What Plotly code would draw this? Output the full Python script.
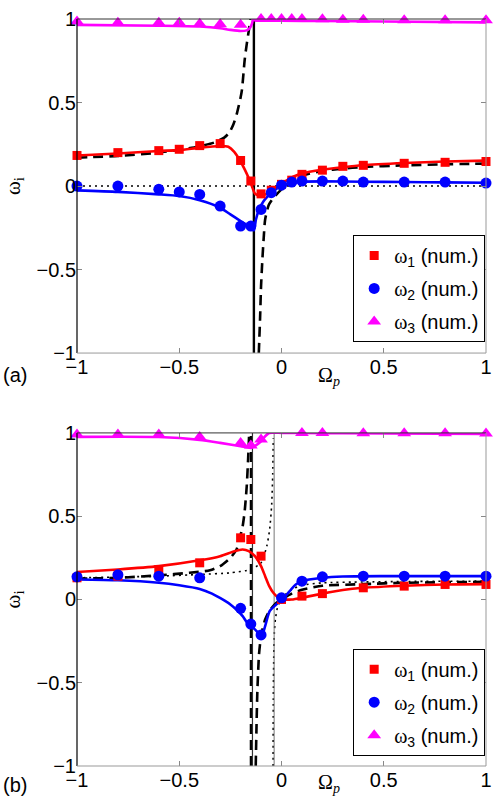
import plotly.graph_objects as go

# ---------------- panel (a) data ----------------
a_dot_x = [-1.0, 1.0]
a_dot_y = [0.0, 0.0]

a_dashL_x = [-1.0, -0.8, -0.6, -0.41, -0.33, -0.28, -0.255, -0.235, -0.217, -0.2, -0.193, -0.18, -0.17, -0.16, -0.152]
a_dashL_y = [0.17, 0.18, 0.2, 0.235, 0.26, 0.29, 0.32, 0.37, 0.44, 0.53, 0.58, 0.755, 0.85, 0.93, 1.0]

a_dashR_x = [-0.111, -0.105, -0.1, -0.094, -0.087, -0.08, -0.063, -0.045, -0.024, 0.0, 0.024, 0.06, 0.1, 0.2, 0.3, 0.39, 0.6, 0.8, 1.0]
a_dashR_y = [-1.0, -0.8, -0.6, -0.45, -0.31, -0.2, -0.115, -0.08, -0.05, -0.02, 0.005, 0.035, 0.062, 0.09, 0.105, 0.113, 0.124, 0.13, 0.134]

a_vline_x = [-0.135, -0.135]
a_vline_y = [-1.0, 1.0]

a_red_x = [-1.0, -0.8, -0.6, -0.5, -0.4, -0.3, -0.26, -0.231, -0.2, -0.18, -0.16, -0.145, -0.13, -0.11, -0.09, -0.06, -0.04, -0.02, 0.0, 0.03, 0.057, 0.1, 0.2, 0.3, 0.394, 0.6, 0.8, 1.0]
a_red_y = [0.183, 0.195, 0.21, 0.215, 0.23, 0.24, 0.235, 0.205, 0.147, 0.1, 0.047, 0.0, -0.045, -0.058, -0.055, -0.04, -0.022, -0.005, 0.015, 0.037, 0.056, 0.075, 0.097, 0.112, 0.124, 0.138, 0.147, 0.152]

a_blue_x = [-1.0, -0.8, -0.6, -0.5, -0.4, -0.3, -0.25, -0.2, -0.17, -0.145, -0.135, -0.125, -0.11, -0.087, -0.07, -0.04, -0.02, 0.0, 0.035, 0.07, 0.1, 0.2, 0.4, 0.6, 0.8, 1.0]
a_blue_y = [-0.026, -0.035, -0.05, -0.06, -0.085, -0.13, -0.17, -0.21, -0.235, -0.26, -0.265, -0.2, -0.14, -0.09, -0.065, -0.03, -0.012, 0.0, 0.015, 0.022, 0.026, 0.028, 0.026, 0.024, 0.022, 0.02]

a_mag_x = [-1.0, -0.6, -0.4, -0.3, -0.25, -0.2, -0.17, -0.155, -0.145, -0.138, -0.13, -0.1, 0.0, 0.2, 0.5, 1.0]
a_mag_y = [0.965, 0.96, 0.955, 0.945, 0.935, 0.928, 0.932, 0.945, 0.97, 1.0, 0.995, 0.993, 0.99, 0.988, 0.985, 0.98]

a_num_x = [-1.0, -0.8, -0.6, -0.5, -0.4, -0.3, -0.2, -0.15, -0.1, -0.05, 0.0, 0.05, 0.1, 0.2, 0.3, 0.4, 0.6, 0.8, 1.0]
a_num1_y = [0.183, 0.2, 0.212, 0.22, 0.242, 0.254, 0.153, 0.03, -0.047, -0.025, 0.01, 0.035, 0.07, 0.095, 0.118, 0.124, 0.136, 0.142, 0.147]
a_num2_y = [0.0, 0.0, -0.02, -0.035, -0.05, -0.12, -0.24, -0.24, -0.14, -0.04, 0.005, 0.024, 0.03, 0.03, 0.03, 0.024, 0.024, 0.024, 0.018]
a_num3_x = [-1.0, -0.8, -0.6, -0.5, -0.4, -0.3, -0.2, -0.1, -0.05, 0.0, 0.05, 0.1, 0.2, 0.3, 0.4, 0.6, 0.8, 1.0]
a_num3_y = [0.985, 0.978, 0.978, 0.978, 0.972, 0.968, 0.965, 1.0, 1.0, 1.0, 1.0, 1.0, 0.998, 0.996, 0.995, 0.993, 0.993, 0.993]

# ---------------- panel (b) data ----------------
b_dotL_x = [-1.0, -0.6, -0.4, -0.25, -0.15, -0.1, -0.072, -0.058, -0.048, -0.043, -0.04]
b_dotL_y = [0.13, 0.14, 0.15, 0.16, 0.18, 0.22, 0.32, 0.42, 0.57, 0.75, 0.97]

b_dotR_x = [-0.041, -0.04, -0.038, -0.035, -0.03, -0.02, -0.01, 0.0, 0.02, 0.05, 0.1, 0.2, 0.4, 0.6, 1.0]
b_dotR_y = [-1.0, -0.6, -0.35, -0.2, -0.12, -0.05, -0.02, 0.0, 0.03, 0.06, 0.085, 0.1, 0.105, 0.108, 0.11]

b_thin_x = [-0.036, -0.036]
b_thin_y = [-1.0, 1.0]

b_dashL_x = [-1.0, -0.8, -0.6, -0.45, -0.35, -0.3, -0.25, -0.22, -0.207, -0.19, -0.18, -0.17, -0.163, -0.158]
b_dashL_y = [0.125, 0.13, 0.145, 0.16, 0.175, 0.2, 0.25, 0.3, 0.355, 0.44, 0.53, 0.68, 0.85, 1.0]

b_dashV_x = [-0.149, -0.149]
b_dashV_y = [-1.0, 1.0]

b_dashR_x = [-0.126, -0.122, -0.118, -0.11, -0.1, -0.08, -0.06, -0.03, 0.0, 0.05, 0.1, 0.2, 0.4, 0.6, 1.0]
b_dashR_y = [-1.0, -0.75, -0.55, -0.33, -0.22, -0.12, -0.07, -0.025, 0.0, 0.035, 0.058, 0.082, 0.092, 0.1, 0.106]

b_vline_x = [-0.142, -0.142]
b_vline_y = [-1.0, 1.0]

b_red_x = [-1.0, -0.8, -0.6, -0.4, -0.3, -0.23, -0.19, -0.16, -0.13, -0.1, -0.08, -0.06, -0.04, -0.02, 0.0, 0.05, 0.1, 0.2, 0.3, 0.4, 0.6, 0.8, 1.0]
b_red_y = [0.165, 0.18, 0.2, 0.235, 0.26, 0.29, 0.3, 0.29, 0.26, 0.2, 0.14, 0.08, 0.04, 0.015, 0.002, 0.0, 0.01, 0.035, 0.057, 0.07, 0.082, 0.09, 0.092]

b_blue_x = [-1.0, -0.8, -0.6, -0.5, -0.4, -0.34, -0.28, -0.25, -0.217, -0.19, -0.17, -0.13, -0.11, -0.097, -0.08, -0.058, -0.03, -0.01, 0.01, 0.04, 0.07, 0.1, 0.2, 0.3, 0.5, 0.7, 1.0]
b_blue_y = [0.12, 0.115, 0.1, 0.085, 0.063, 0.035, -0.006, -0.03, -0.065, -0.1, -0.136, -0.18, -0.205, -0.22, -0.16, -0.07, -0.035, -0.015, 0.005, 0.05, 0.09, 0.11, 0.13, 0.138, 0.14, 0.14, 0.14]

b_mag_x = [-1.0, -0.6, -0.4, -0.3, -0.2, -0.15, -0.12, -0.1, -0.08, -0.06, 0.0, 0.1, 0.3, 1.0]
b_mag_y = [0.976, 0.975, 0.958, 0.94, 0.92, 0.91, 0.93, 0.95, 0.98, 1.0, 1.0, 1.0, 0.998, 0.994]

b_num_x = [-1.0, -0.8, -0.6, -0.4, -0.2, -0.15, -0.1, 0.0, 0.1, 0.2, 0.4, 0.6, 0.8, 1.0]
b_num1_y = [0.13, 0.14, 0.18, 0.22, 0.37, 0.36, 0.26, 0.0, 0.02, 0.035, 0.07, 0.08, 0.09, 0.09]
b_num2_y = [0.136, 0.148, 0.14, 0.13, -0.053, -0.148, -0.213, 0.01, 0.11, 0.136, 0.14, 0.14, 0.14, 0.14]
b_num3_x = [-1.0, -0.8, -0.6, -0.4, -0.2, -0.15, -0.1, 0.1, 0.2, 0.4, 0.6, 0.8, 1.0]
b_num3_y = [0.99, 0.99, 0.99, 0.975, 0.94, 0.925, 0.96, 1.0, 1.0, 0.998, 0.998, 0.998, 0.996]

tick_vals = [-1, -0.5, 0, 0.5, 1]

RED = "#ff0000"
BLUE = "#0000ff"
MAG = "#ff00ff"
SANS = "Liberation Sans, Arial, sans-serif"
SERIF = "Liberation Serif, Times New Roman, serif"

fig = go.Figure()


def line(x, y, color, width, dash, xa, ya, clip=True):
    fig.add_trace(go.Scatter(x=x, y=y, mode="lines", xaxis=xa, yaxis=ya,
                             line=dict(color=color, width=width, dash=dash, shape="spline", smoothing=0.6),
                             showlegend=False, hoverinfo="skip", cliponaxis=clip))


def markers(x, y, color, symbol, size, name, xa, ya, leg):
    fig.add_trace(go.Scatter(x=x, y=y, mode="markers", xaxis=xa, yaxis=ya, name=name,
                             marker=dict(color=color, symbol=symbol, size=size, line=dict(width=0)),
                             legend=leg, legendgroup=name + leg, cliponaxis=False))


DOTS = "2px,4px"
DASH = "10px,6px"

# panel (a)
line(a_dot_x, a_dot_y, "black", 1.6, DOTS, "x", "y")
line(a_dashL_x, a_dashL_y, "black", 2.6, DASH, "x", "y")
line(a_dashR_x, a_dashR_y, "black", 2.6, DASH, "x", "y")
line(a_vline_x, a_vline_y, "black", 2.4, "solid", "x", "y")
line(a_red_x, a_red_y, RED, 2.6, "solid", "x", "y")
line(a_blue_x, a_blue_y, BLUE, 2.6, "solid", "x", "y")
line(a_mag_x, a_mag_y, MAG, 2.6, "solid", "x", "y", clip=False)

w1 = "<span style='font-family:Liberation Serif'>ω</span><sub>1</sub> (num.)"
w2 = "<span style='font-family:Liberation Serif'>ω</span><sub>2</sub> (num.)"
w3 = "<span style='font-family:Liberation Serif'>ω</span><sub>3</sub> (num.)"

markers(a_num_x, a_num1_y, RED, "square", 9, w1, "x", "y", "legend")
markers(a_num_x, a_num2_y, BLUE, "circle", 11, w2, "x", "y", "legend")
markers(a_num3_x, a_num3_y, MAG, "triangle-up", 12, w3, "x", "y", "legend")

# panel (b)
line(b_dotL_x, b_dotL_y, "black", 1.6, DOTS, "x2", "y2")
line(b_dotR_x, b_dotR_y, "black", 1.6, DOTS, "x2", "y2")
line(b_thin_x, b_thin_y, "#777777", 1.0, "solid", "x2", "y2")
line(b_dashL_x, b_dashL_y, "black", 2.6, DASH, "x2", "y2")
line(b_dashV_x, b_dashV_y, "black", 2.6, DASH, "x2", "y2")
line(b_dashR_x, b_dashR_y, "black", 2.6, DASH, "x2", "y2")
line(b_vline_x, b_vline_y, "#333333", 1.2, "solid", "x2", "y2")
line(b_red_x, b_red_y, RED, 2.6, "solid", "x2", "y2")
line(b_blue_x, b_blue_y, BLUE, 2.6, "solid", "x2", "y2")
line(b_mag_x, b_mag_y, MAG, 2.6, "solid", "x2", "y2", clip=False)

markers(b_num_x, b_num1_y, RED, "square", 9, w1, "x2", "y2", "legend2")
markers(b_num_x, b_num2_y, BLUE, "circle", 11, w2, "x2", "y2", "legend2")
markers(b_num3_x, b_num3_y, MAG, "triangle-up", 12, w3, "x2", "y2", "legend2")

axis_common = dict(range=[-1, 1], tickvals=tick_vals, ticks="inside", ticklen=5, tickcolor="#888888",
                   tickwidth=1, mirror="ticks", showline=False, showgrid=False, zeroline=False,
                   tickfont=dict(family=SANS, size=20, color="black"))

TOP0 = 0.5528
BOT1 = 0.4459

legend_common = dict(font=dict(family=SANS, size=20, color="black"), bgcolor="white",
                     bordercolor="black", borderwidth=1, xanchor="right", yanchor="top",
                     tracegroupgap=4, itemsizing="trace")

ytitle = dict(text="ω<sub>i</sub>", font=dict(family=SERIF, size=21, color="black"), standoff=10)

fig.update_layout(
    width=500, height=799,
    margin=dict(l=77, r=8, t=8, b=33),
    paper_bgcolor="white", plot_bgcolor="white",
    xaxis=dict(domain=[0, 1], anchor="y", **axis_common),
    yaxis=dict(domain=[TOP0, 1], anchor="x", title=ytitle, **axis_common),
    xaxis2=dict(domain=[0, 1], anchor="y2", **axis_common),
    yaxis2=dict(domain=[0, BOT1], anchor="x2", title=ytitle, **axis_common),
    legend=dict(x=0.998, y=0.711, **legend_common),
    legend2=dict(x=0.998, y=0.157, **legend_common),
    showlegend=True,
)

# axis box lines
for xr, yr in (("x domain", "y domain"), ("x2 domain", "y2 domain")):
    fig.add_shape(type="line", xref=xr, yref=yr, x0=0, x1=0, y0=0, y1=1, line=dict(color="black", width=1.2))
    fig.add_shape(type="line", xref=xr, yref=yr, x0=0, x1=1, y0=1, y1=1, line=dict(color="#333333", width=1))
    fig.add_shape(type="line", xref=xr, yref=yr, x0=1, x1=1, y0=0, y1=1, line=dict(color="#999999", width=1))
    fig.add_shape(type="line", xref=xr, yref=yr, x0=0, x1=1, y0=0, y1=0, line=dict(color="#999999", width=1))

omega_p = "<span style='font-family:Liberation Serif'>Ω<sub><i>p</i></sub></span>"
fig.add_annotation(text=omega_p, xref="paper", yref="paper", x=0.615, y=TOP0, yshift=-23, yanchor="middle",
                   showarrow=False, font=dict(family=SERIF, size=20, color="black"))
fig.add_annotation(text=omega_p, xref="paper", yref="paper", x=0.615, y=0, yshift=-17, yanchor="middle",
                   showarrow=False, font=dict(family=SERIF, size=20, color="black"))
fig.add_annotation(text="(a)", xref="paper", yref="paper", x=-0.185, y=TOP0, yshift=-22, xanchor="left",
                   yanchor="middle", showarrow=False, font=dict(family=SANS, size=20, color="black"))
fig.add_annotation(text="(b)", xref="paper", yref="paper", x=-0.185, y=0, yshift=-19, xanchor="left",
                   yanchor="middle", showarrow=False, font=dict(family=SANS, size=20, color="black"))

fig.write_html("out.html")
